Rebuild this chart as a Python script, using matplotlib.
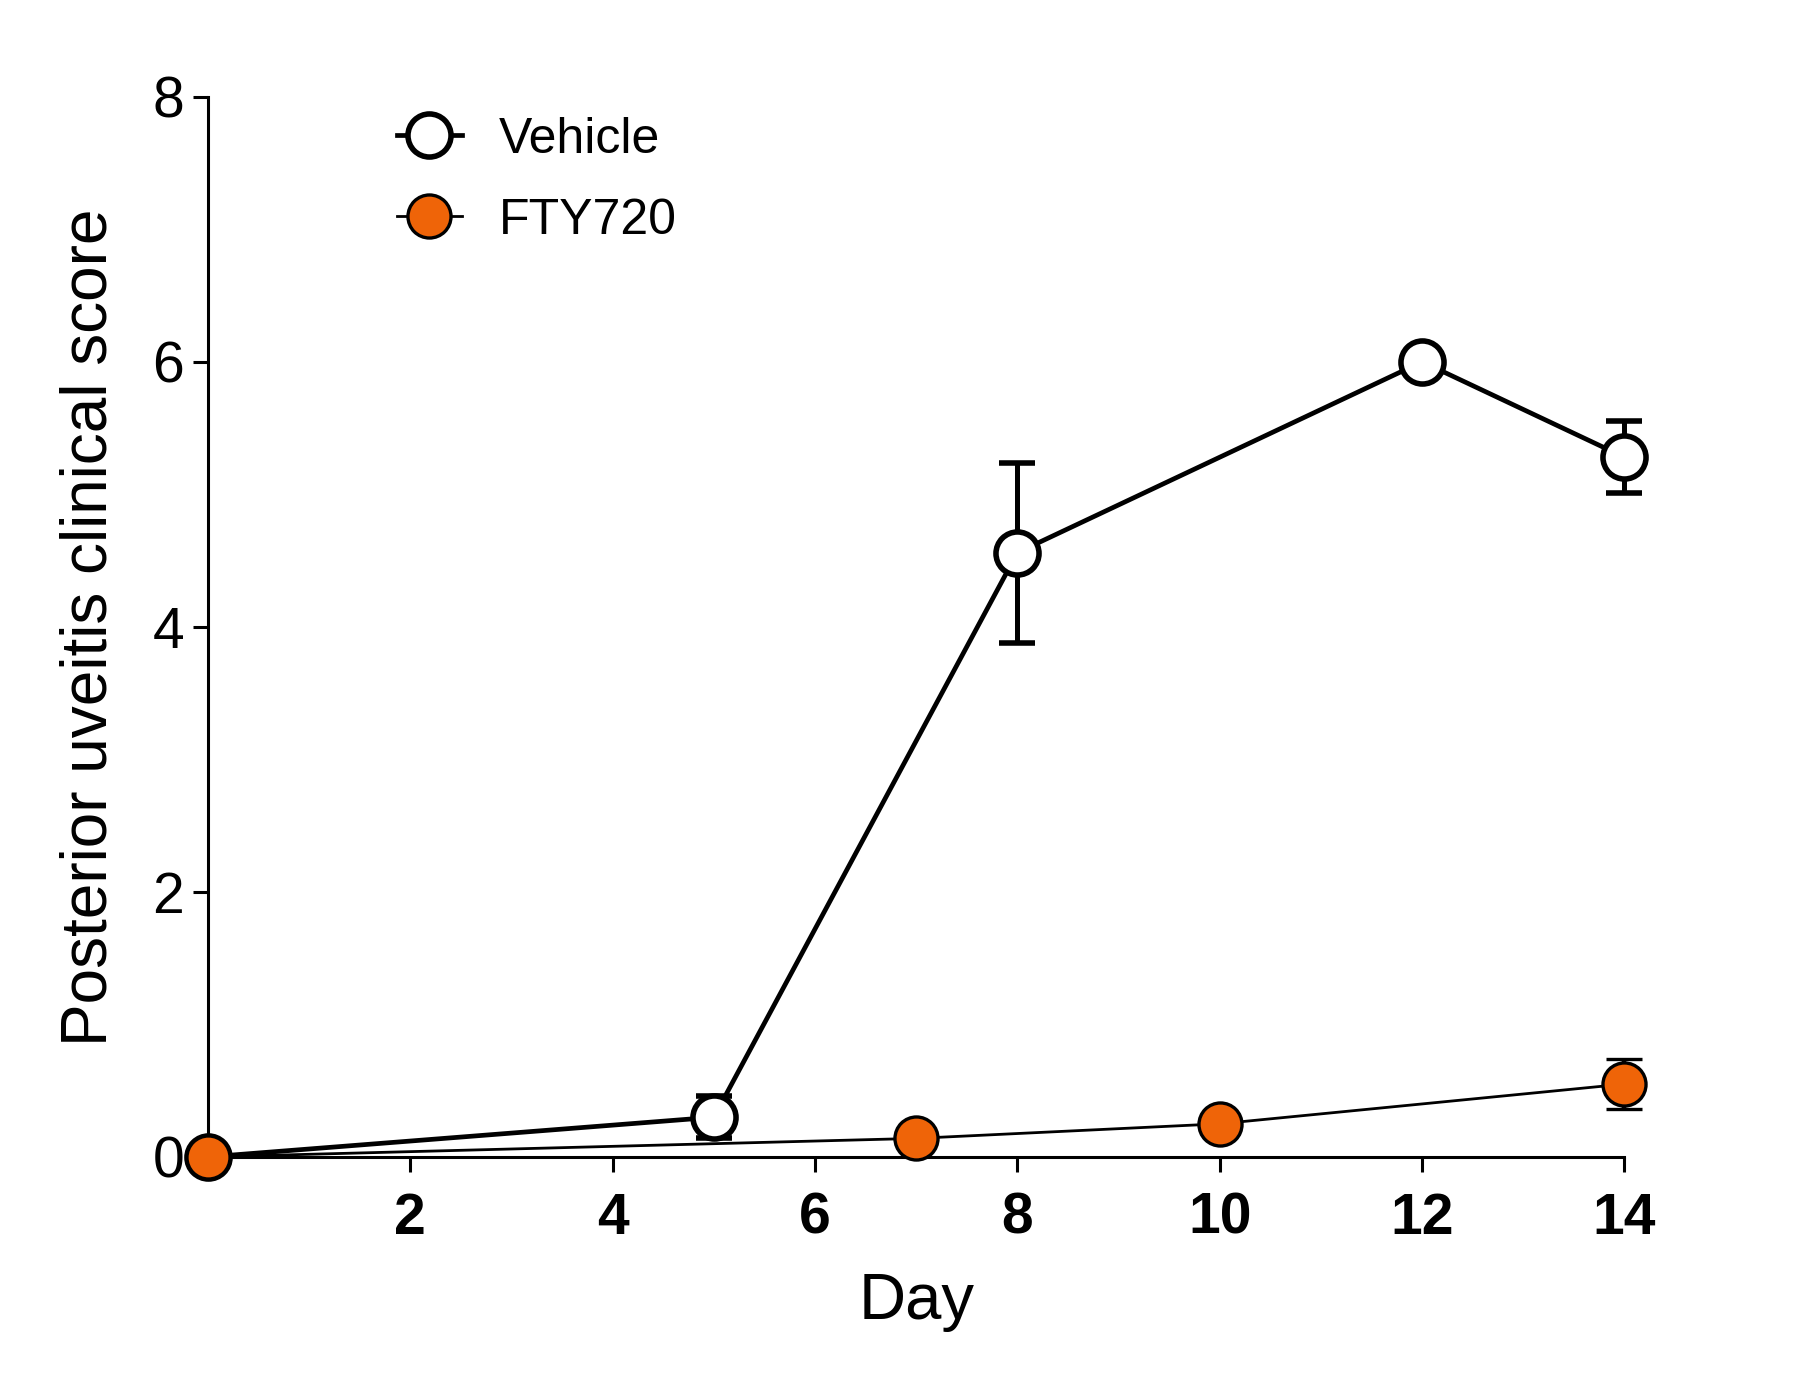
import numpy as np
import matplotlib.pyplot as plt
from matplotlib.lines import Line2D

plt.rcParams['font.family'] = ['Liberation Sans', 'DejaVu Sans']

# Vehicle group
veh_day = [0, 5, 8, 12, 14]
veh_score = [0.0, 0.30, 4.56, 6.0, 5.28]
veh_err = [0.0, 0.16, 0.68, 0.0, 0.27]

# FTY720 group
fty_day = [0, 7, 10, 14]
fty_score = [0.0, 0.14, 0.25, 0.55]
fty_err = [0.0, 0.0, 0.0, 0.19]

ORANGE = '#EF6408'
MS = 31

fig = plt.figure(figsize=(18.05, 13.76), dpi=100)
ax = fig.add_axes([0.1152, 0.1592, 0.7848, 0.7705])

ax.errorbar(fty_day, fty_score, yerr=fty_err, color='black', lw=2.0,
            marker='o', ms=MS, mfc=ORANGE, mec='black', mew=2.4,
            capsize=13, capthick=3.2, elinewidth=3.2, clip_on=False,
            zorder=3)
ax.errorbar(veh_day, veh_score, yerr=veh_err, color='black', lw=3.4,
            marker='o', ms=MS, mfc='white', mec='black', mew=4.0,
            capsize=13, capthick=3.6, elinewidth=3.6, clip_on=False,
            zorder=4)
# day-0 FTY point sits on top in the reference
ax.plot(fty_day[:1], fty_score[:1], 'o', ms=MS, mfc=ORANGE, mec='black',
        mew=2.4, clip_on=False, zorder=5)

ax.set_xlim(0, 14)
ax.set_ylim(0, 8)
ax.set_xticks([2, 4, 6, 8, 10, 12, 14])
ax.set_yticks([0, 2, 4, 6, 8])

for s in ['top', 'right']:
    ax.spines[s].set_visible(False)
for s in ['left', 'bottom']:
    ax.spines[s].set_linewidth(2.2)

ax.tick_params(axis='both', width=2.2, length=11, labelsize=41)
ax.tick_params(axis='x', pad=14)
ax.tick_params(axis='y', pad=6)
for lab in ax.get_xticklabels():
    lab.set_fontweight('bold')

ax.set_xlabel('Day', fontsize=47, labelpad=19)
ax.set_ylabel('Posterior uveitis clinical score', fontsize=46, labelpad=24)

handles = [
    Line2D([], [], color='black', lw=3.4, marker='o', ms=MS, mfc='white',
           mec='black', mew=4.0),
    Line2D([], [], color='black', lw=2.0, marker='o', ms=MS, mfc=ORANGE,
           mec='black', mew=2.4),
]
ax.legend(handles, ['Vehicle', 'FTY720'], loc='upper left',
          bbox_to_anchor=(0.119, 1.0), frameon=False, fontsize=36,
          handlelength=1.3, handletextpad=0.75, labelspacing=0.7,
          borderaxespad=0)

fig.savefig('out.png', dpi=100)
